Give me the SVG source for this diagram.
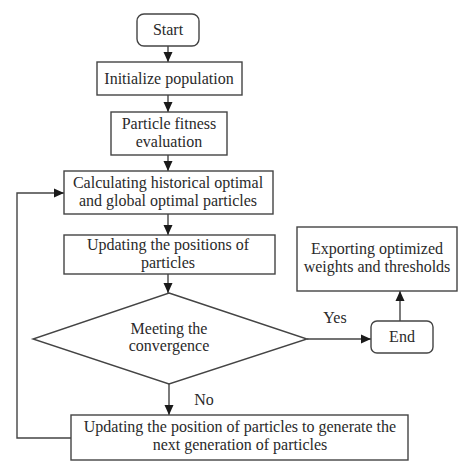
<svg xmlns="http://www.w3.org/2000/svg" width="474" height="474" viewBox="0 0 474 474">
<defs>
<marker id="ah" markerWidth="10" markerHeight="10" refX="10" refY="5" orient="auto" markerUnits="userSpaceOnUse">
<path d="M0,0.5 L10,5 L0,9.5 Z" fill="#1a1a1a"/>
</marker>
<style>
.box{fill:#fff;stroke:#444;stroke-width:1.4}
.ln{fill:none;stroke:#444;stroke-width:1.4}
.t{font-family:"Liberation Serif","Times New Roman",serif;font-size:16px;fill:#2a2a2a;text-anchor:middle}
</style>
</defs>
<rect width="474" height="474" fill="#fff"/>
<g id="connectors">
<line class="ln" x1="168" y1="46" x2="168" y2="62" marker-end="url(#ah)"/>
<line class="ln" x1="168" y1="95" x2="168" y2="112" marker-end="url(#ah)"/>
<line class="ln" x1="168" y1="155" x2="168" y2="171" marker-end="url(#ah)"/>
<line class="ln" x1="168" y1="214" x2="168" y2="235" marker-end="url(#ah)"/>
<line class="ln" x1="168" y1="274" x2="168" y2="293" marker-end="url(#ah)"/>
<line class="ln" x1="169" y1="384" x2="169" y2="415" marker-end="url(#ah)"/>
<line class="ln" x1="307" y1="339" x2="371" y2="339" marker-end="url(#ah)"/>
<line class="ln" x1="400" y1="321" x2="400" y2="291" marker-end="url(#ah)"/>
<polyline class="ln" points="71,438 17,438 17,193 64,193" marker-end="url(#ah)"/>
<text class="t" x="335" y="323">Yes</text>
<text class="t" x="204" y="405">No</text>
</g>
<g id="start">
<rect class="box" x="137" y="14" width="62" height="32" rx="7"/>
<text class="t" x="168" y="35">Start</text>
</g>
<g id="init">
<rect class="box" x="97" y="62" width="145" height="33"/>
<text class="t" x="169" y="84">Initialize population</text>
</g>
<g id="fitness">
<rect class="box" x="111" y="112" width="116" height="43"/>
<text class="t" x="169" y="129">Particle fitness</text>
<text class="t" x="169" y="147">evaluation</text>
</g>
<g id="calc">
<rect class="box" x="64" y="171" width="209" height="43"/>
<text class="t" x="168" y="188">Calculating historical optimal</text>
<text class="t" x="168" y="206">and global optimal particles</text>
</g>
<g id="update">
<rect class="box" x="64" y="235" width="211" height="39"/>
<text class="t" x="168" y="250">Updating the positions of</text>
<text class="t" x="168" y="268">particles</text>
</g>
<g id="decision">
<polygon class="box" points="169,293 307,339 169,384 33,339"/>
<text class="t" x="169" y="334">Meeting the</text>
<text class="t" x="169" y="351">convergence</text>
</g>
<g id="end">
<rect class="box" x="371" y="321" width="62" height="32" rx="6"/>
<text class="t" x="402" y="342">End</text>
</g>
<g id="export">
<rect class="box" x="297" y="227" width="160" height="64"/>
<text class="t" x="377" y="254">Exporting optimized</text>
<text class="t" x="377" y="272">weights and thresholds</text>
</g>
<g id="next">
<rect class="box" x="71" y="415" width="337" height="45"/>
<text class="t" x="240" y="432">Updating the position of particles to generate the</text>
<text class="t" x="240" y="450">next generation of particles</text>
</g>
</svg>
